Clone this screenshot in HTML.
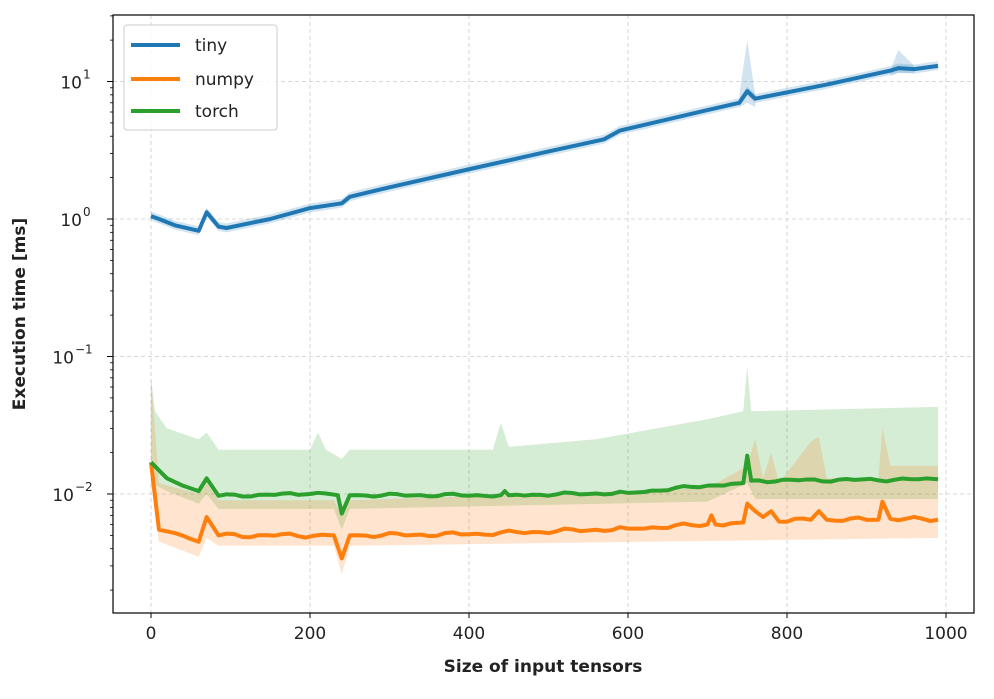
<!DOCTYPE html>
<html><head><meta charset="utf-8"><style>
body{margin:0;background:#fff;width:994px;height:694px;overflow:hidden}
text{font-family:"DejaVu Sans","Liberation Sans",sans-serif;fill:#222}
</style></head><body>
<svg id="s" width="994" height="694" xmlns="http://www.w3.org/2000/svg"></svg>
<script>
const X=v=>151+v*0.795, Y=v=>219-137.5*Math.log10(v);
const s=document.getElementById('s');let h='';
for(const v of [0,200,400,600,800,1000]) h+=`<line x1="${X(v)}" x2="${X(v)}" y1="15" y2="613" stroke="#ccc" stroke-dasharray="4,3" stroke-width="0.8"/>`;
for(const v of [10,1,0.1,0.01]) h+=`<line x1="113" x2="974" y1="${Y(v)}" y2="${Y(v)}" stroke="#ccc" stroke-dasharray="4,3" stroke-width="0.8"/>`;
const pl=(pts,c,w,o)=>`<polyline fill="none" stroke="${c}" stroke-width="${w}" stroke-linejoin="round" opacity="${o||1}" points="${pts.map(p=>X(p[0])+','+Y(p[1])).join(' ')}"/>`;
const band=(up,lo,c,o)=>`<polygon fill="${c}" opacity="${o}" points="${up.map(p=>X(p[0])+','+Y(p[1])).concat(lo.slice().reverse().map(p=>X(p[0])+','+Y(p[1]))).join(' ')}"/>`;
const sc=(a,f)=>a.map(p=>[p[0],p[1]*f]);
// densify with small jitter
function dens(a,j){const r=[];for(let i=0;i<a.length-1;i++){r.push(a[i]);const [x0,y0]=a[i],[x1,y1]=a[i+1];if(x1-x0>20){for(let x=x0+10;x<x1-5;x+=10){const t=(x-x0)/(x1-x0);const v=Math.exp(Math.log(y0)+(Math.log(y1)-Math.log(y0))*t);r.push([x,v*(1+j*Math.sin(x*1.7)*Math.cos(x*0.9))]);}}}r.push(a[a.length-1]);return r;}
const tiny=[[0,1.05],[10,1.0],[30,0.9],[60,0.82],[70,1.12],[85,0.88],[95,0.86],[150,1.0],[200,1.2],[240,1.3],[250,1.45],[300,1.7],[400,2.3],[500,3.1],[570,3.8],[590,4.4],[700,6.2],[740,7.0],[750,8.5],[760,7.5],[850,9.5],[930,12],[940,12.5],[960,12.3],[990,13]];
const torch=dens([[0,0.017],[20,0.013],[40,0.0115],[60,0.0105],[70,0.013],[85,0.0097],[200,0.01],[210,0.0102],[235,0.0098],[240,0.0072],[250,0.0098],[440,0.0098],[445,0.0105],[450,0.0098],[600,0.0102],[700,0.0115],[745,0.012],[750,0.019],[755,0.0125],[990,0.0128]],0.03);
const tU=[[0,0.07],[5,0.04],[20,0.03],[60,0.025],[70,0.028],[85,0.021],[200,0.021],[210,0.028],[220,0.021],[240,0.018],[250,0.021],[430,0.021],[440,0.033],[450,0.022],[560,0.025],[700,0.035],[745,0.04],[750,0.085],[755,0.04],[990,0.043]];
const tL=[[0,0.012],[20,0.0105],[60,0.0085],[70,0.01],[85,0.0078],[230,0.0078],[240,0.0055],[250,0.0078],[700,0.0088],[750,0.012],[760,0.0092],[990,0.0092]];
const np=dens([[0,0.017],[10,0.0055],[30,0.0052],[60,0.0045],[70,0.0068],[85,0.005],[230,0.005],[240,0.0034],[250,0.005],[400,0.0051],[600,0.0056],[700,0.006],[705,0.007],[710,0.006],[745,0.0062],[750,0.0085],[760,0.0075],[770,0.0068],[780,0.0075],[790,0.0063],[830,0.0065],[840,0.0075],[850,0.0065],[915,0.0065],[920,0.0088],[930,0.0066],[990,0.0065]],0.04);
const nU=[[0,0.07],[10,0.012],[60,0.01],[70,0.012],[85,0.009],[230,0.009],[240,0.007],[250,0.009],[700,0.011],[750,0.016],[760,0.025],[770,0.013],[780,0.02],[790,0.012],[830,0.024],[840,0.026],[850,0.013],[915,0.013],[920,0.03],[930,0.016],[990,0.016]];
const nL=[[0,0.012],[10,0.0045],[60,0.0035],[70,0.0048],[85,0.0042],[230,0.0042],[240,0.0026],[250,0.0042],[990,0.0048]];
h+=band(tU,tL,'#2ca02c',0.2)+band(nU,nL,'#ff7f0e',0.2)+band(sc(tiny,1.08),sc(tiny,0.93),'#1f77b4',0.2);
h+=band([[740,8],[750,20],[760,8]],[[740,6.5],[750,7],[760,6.5]],'#1f77b4',0.2);
h+=band([[930,12],[940,17],[960,13]],[[930,11],[940,11.5],[960,11.5]],'#1f77b4',0.2);
h+=pl(tiny,'#1f77b4',4)+pl(np,'#ff7f0e',4)+pl(torch,'#2ca02c',4);
h+=`<rect x="113" y="15" width="861" height="598" fill="none" stroke="#000" stroke-width="1.2"/>`;
for(const v of [0,200,400,600,800,1000]) h+=`<line x1="${X(v)}" x2="${X(v)}" y1="613" y2="618" stroke="#000"/><text x="${X(v)}" y="639" font-size="17" text-anchor="middle">${v}</text>`;
for(const [v,e] of [[10,'1'],[1,'0'],[0.1,'−1'],[0.01,'−2']]) h+=`<line x1="107" x2="113" y1="${Y(v)}" y2="${Y(v)}" stroke="#000"/><text x="${e.length>1?74:82}" y="${Y(v)+7}" font-size="17" text-anchor="end">10</text><text x="${e.length>1?75:83}" y="${Y(v)-3}" font-size="12">${e}</text>`;
for(let d=-3;d<2;d++)for(let k=2;k<10;k++){const v=k*Math.pow(10,d),y=Y(v);if(y>15&&y<613)h+=`<line x1="110" x2="113" y1="${y}" y2="${y}" stroke="#000" stroke-width="0.8"/>`;}
h+=`<text x="543" y="672" font-size="17" font-weight="bold" text-anchor="middle">Size of input tensors</text>`;
h+=`<text transform="translate(25,314) rotate(-90)" font-size="17" font-weight="bold" text-anchor="middle">Execution time [ms]</text>`;
h+=`<rect x="124" y="25" width="153" height="105" rx="3" fill="#fff" fill-opacity="0.8" stroke="#ccc"/>`;
[['tiny','#1f77b4',45],['numpy','#ff7f0e',79],['torch','#2ca02c',111]].forEach(([n,c,y])=>{h+=`<line x1="131" x2="180" y1="${y}" y2="${y}" stroke="${c}" stroke-width="4"/><text x="195" y="${y+6}" font-size="17">${n}</text>`;});
s.innerHTML=h;
</script>
</body></html>
